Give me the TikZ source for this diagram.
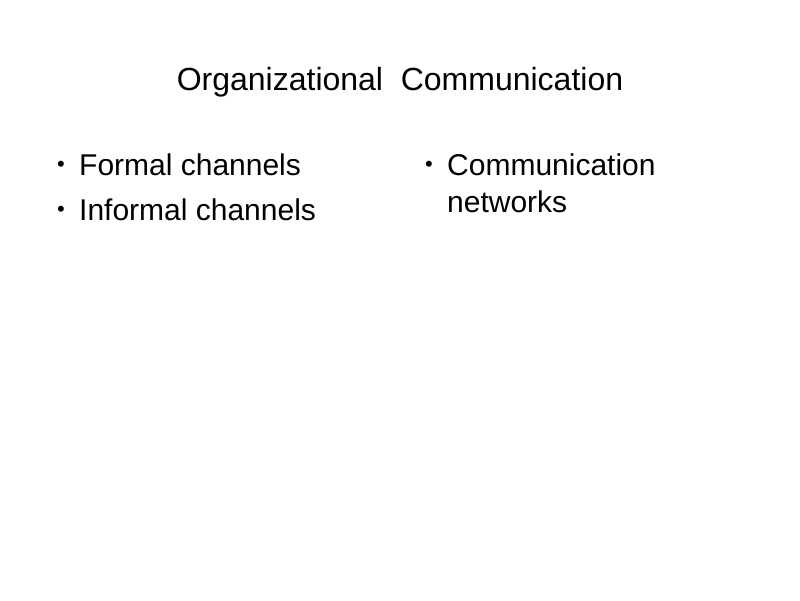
\documentclass[tikz,border=0pt]{standalone}
\usepackage{fontspec}
\setmainfont{Liberation Sans}
\begin{document}
\begin{tikzpicture}[x=1pt,y=-1pt,
  txt/.style={anchor=west,inner sep=0pt,font=\fontsize{30}{34}\selectfont},
  bul/.style={inner sep=0pt,font=\fontsize{22}{26}\selectfont},
  ttl/.style={inner sep=0pt,font=\fontsize{32}{36}\selectfont}]
\useasboundingbox[fill=white] (0,0) rectangle (800,600);
\node[ttl] (t) at (400,82) {Organizational\ \ Communication};
\node[bul] (b1) at (61,166) {•};
\node[txt] (l1) at (79,165) {Formal channels};
\node[bul] (b2) at (61,211) {•};
\node[txt] (l2) at (79,210) {Informal channels};
\node[bul] (b3) at (429,166) {•};
\node[txt] (l3) at (447,165) {Communication};
\node[txt] (l4) at (447,202) {networks};
\end{tikzpicture}
\end{document}
